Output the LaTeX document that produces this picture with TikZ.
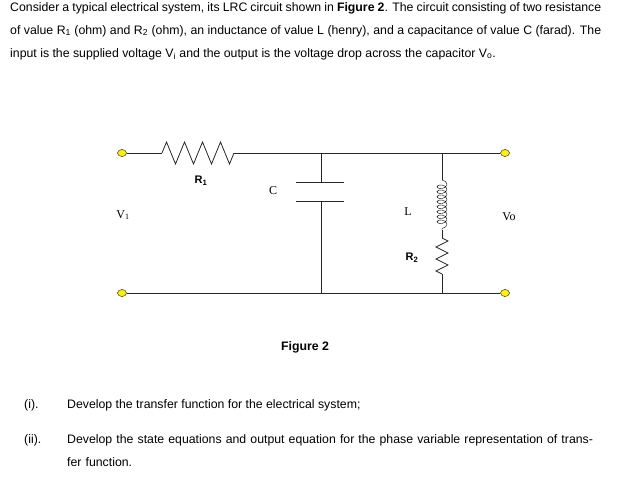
\documentclass[tikz,border=0pt]{standalone}
\usepackage{fontspec}
\setmainfont{Liberation Sans}
\newfontfamily\serifx{Liberation Serif}
\usetikzlibrary{decorations.pathmorphing,shapes.geometric}
\begin{document}
\begin{tikzpicture}[x=1pt,y=-1pt,
  wire/.style={line width=0.8pt,black!85},
  term/.style={draw=black!80,fill=yellow,ellipse,minimum width=9pt,minimum height=7pt,inner sep=0pt,line width=0.5pt},
  lbl/.style={font=\fontsize{11}{11}\selectfont\bfseries,inner sep=0pt},
  slbl/.style={font=\fontsize{12}{12}\selectfont\serifx,inner sep=0pt},
  txt/.style={font=\fontsize{12.3}{23}\selectfont,inner sep=0pt,anchor=north west}]
\useasboundingbox (0,0) rectangle (628,490);
\node[txt,text width=591pt,align=justify] (p) at (10,2) {Consider a typical electrical system, its LRC circuit shown in \textbf{Figure 2}. The circuit consisting of two resistance of value R\textsubscript{1} (ohm) and R\textsubscript{2} (ohm), an inductance of value L (henry), and a capacitance of value C (farad). The input is the supplied voltage V\textsubscript{i} and the output is the voltage drop across the capacitor V\textsubscript{o}.};
% nodes
\node[term] (t1) at (122,153) {};
\node[term] (t2) at (505,153) {};
\node[term] (t3) at (122,293) {};
\node[term] (t4) at (505,293) {};
\coordinate (r1a) at (162,153); \coordinate (r1b) at (234,153);
\coordinate (ct) at (321,153); \coordinate (cp1) at (321,182);
\coordinate (cp2) at (321,201); \coordinate (cb) at (321,293);
\coordinate (lt) at (442,153); \coordinate (la) at (442,180);
\coordinate (lb) at (442,230); \coordinate (ra) at (442,238);
\coordinate (rb) at (442,274); \coordinate (lbtm) at (442,293);
\draw[wire] (t1) -- (r1a);
\draw[wire,decorate,decoration={zigzag,amplitude=11pt,segment length=18pt}] (r1a) -- (r1b);
\draw[wire] (r1b) -- (t2);
\draw[wire] (t3) -- (t4);
\draw[wire] (ct) -- (cp1);
\draw[wire] (296,182) -- (344,182);
\draw[wire] (296,201) -- (344,201);
\draw[wire] (cp2) -- (cb);
\draw[wire] (lt) -- (la);
\draw[line width=0.4pt,decorate,decoration={coil,amplitude=5pt,segment length=5pt,aspect=0.6}] (la) -- (lb);
\draw[wire] (lb) -- (ra);
\draw[wire,decorate,decoration={zigzag,amplitude=6pt,segment length=12pt}] (ra) -- (rb);
\draw[wire] (rb) -- (lbtm);
% labels
\node[lbl] (lr1) at (201,181) {R\textsubscript{1}};
\node[slbl] (lc) at (273,191) {C};
\node[slbl] (lv1) at (123,215) {V\textsubscript{1}};
\node[slbl] (ll) at (408,212) {L};
\node[slbl] (lvo) at (509,217) {Vo};
\node[lbl] (lr2) at (412,258) {R\textsubscript{2}};
\node[lbl,font=\fontsize{12.3}{12}\selectfont\bfseries] (fig) at (305,347) {Figure 2};
\node[txt] (i1) at (24,399) {(i).};
\node[txt] (i1t) at (67,399) {Develop the transfer function for the electrical system;};
\node[txt] (i2) at (24,434) {(ii).};
\node[txt,text width=535pt] (i2t) at (67,434) {Develop the state equations and output equation for the phase variable representation of transfer function.};
\end{tikzpicture}
\end{document}
